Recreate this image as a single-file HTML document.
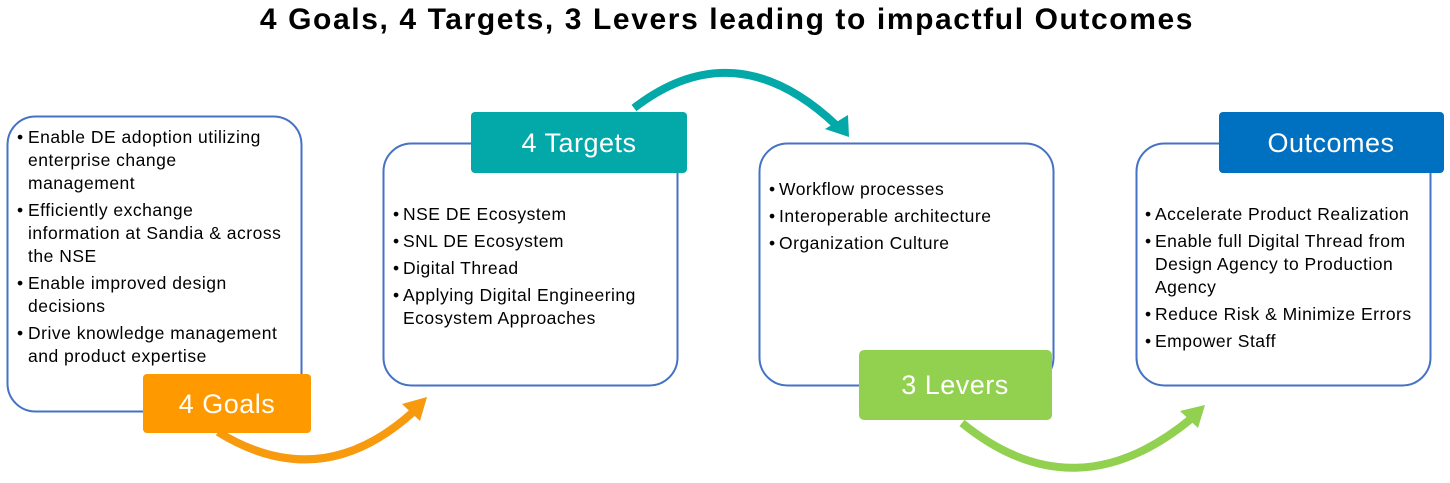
<!DOCTYPE html>
<html><head><meta charset="utf-8"><style>
body{margin:0;background:#fff;width:1450px;height:483px;overflow:hidden}
svg{display:block}
text{font-family:"Liberation Sans",sans-serif}
.t{font-size:17.5px;fill:#000;letter-spacing:0.5px}
.l{font-size:27px;fill:#fff;letter-spacing:0.5px}
</style></head><body>
<svg width="1450" height="483" viewBox="0 0 1450 483">
<text x="727" y="29" text-anchor="middle" font-size="30" font-weight="bold" letter-spacing="1.6">4 Goals, 4 Targets, 3 Levers leading to impactful Outcomes</text>
<!-- arrows -->
<path d="M218,432 Q320,495 412,413" fill="none" stroke="#F79A0E" stroke-width="8"/>
<polygon points="427,397 402,404 420,421" fill="#F79A0E"/>
<path d="M634,108 Q735,30 836,125" fill="none" stroke="#03A8A8" stroke-width="8"/>
<polygon points="849,137 825,129 848,115" fill="#03A8A8"/>
<path d="M962,423 Q1075,515 1192,418" fill="none" stroke="#92D050" stroke-width="8"/>
<polygon points="1205,405 1180,411 1198,428" fill="#92D050"/>
<!-- boxes -->
<rect x="7.5" y="116.5" width="294" height="295" rx="28" fill="#fff" stroke="#4472C4" stroke-width="2"/>
<rect x="383.5" y="143.5" width="294" height="242" rx="28" fill="#fff" stroke="#4472C4" stroke-width="2"/>
<rect x="759.5" y="143.5" width="294" height="242" rx="28" fill="#fff" stroke="#4472C4" stroke-width="2"/>
<rect x="1136.5" y="143.5" width="294" height="242" rx="28" fill="#fff" stroke="#4472C4" stroke-width="2"/>
<!-- labels -->
<rect x="143" y="374" width="168" height="59" rx="4" fill="#FF9900"/>
<text class="l" x="227" y="413" text-anchor="middle">4 Goals</text>
<rect x="471" y="112" width="216" height="61" rx="4" fill="#03A8A8"/>
<text class="l" x="579" y="152" text-anchor="middle">4 Targets</text>
<rect x="859" y="350" width="193" height="70" rx="5" fill="#92D050"/>
<text class="l" x="955" y="394" text-anchor="middle">3 Levers</text>
<rect x="1219" y="112" width="225" height="61" rx="4" fill="#0070C0"/>
<text class="l" x="1331" y="152" text-anchor="middle">Outcomes</text>
<g>
<text class="t" x="17" y="143">•</text><text class="t" x="28" y="143">Enable DE adoption utilizing</text>
<text class="t" x="28" y="166">enterprise change</text>
<text class="t" x="28" y="189">management</text>
<text class="t" x="17" y="216">•</text><text class="t" x="28" y="216">Efficiently exchange</text>
<text class="t" x="28" y="239">information at Sandia &amp; across</text>
<text class="t" x="28" y="262">the NSE</text>
<text class="t" x="17" y="289">•</text><text class="t" x="28" y="289">Enable improved design</text>
<text class="t" x="28" y="312">decisions</text>
<text class="t" x="17" y="339">•</text><text class="t" x="28" y="339">Drive knowledge management</text>
<text class="t" x="28" y="362">and product expertise</text>
<text class="t" x="393" y="220">•</text><text class="t" x="403" y="220">NSE DE Ecosystem</text>
<text class="t" x="393" y="247">•</text><text class="t" x="403" y="247">SNL DE Ecosystem</text>
<text class="t" x="393" y="274">•</text><text class="t" x="403" y="274">Digital Thread</text>
<text class="t" x="393" y="301">•</text><text class="t" x="403" y="301">Applying Digital Engineering</text>
<text class="t" x="403" y="324">Ecosystem Approaches</text>
<text class="t" x="769" y="195">•</text><text class="t" x="779" y="195">Workflow processes</text>
<text class="t" x="769" y="222">•</text><text class="t" x="779" y="222">Interoperable architecture</text>
<text class="t" x="769" y="249">•</text><text class="t" x="779" y="249">Organization Culture</text>
<text class="t" x="1145" y="220">•</text><text class="t" x="1155" y="220">Accelerate Product Realization</text>
<text class="t" x="1145" y="247">•</text><text class="t" x="1155" y="247">Enable full Digital Thread from</text>
<text class="t" x="1155" y="270">Design Agency to Production</text>
<text class="t" x="1155" y="293">Agency</text>
<text class="t" x="1145" y="320">•</text><text class="t" x="1155" y="320">Reduce Risk &amp; Minimize Errors</text>
<text class="t" x="1145" y="347">•</text><text class="t" x="1155" y="347">Empower Staff</text>
</g>
</svg>
</body></html>
